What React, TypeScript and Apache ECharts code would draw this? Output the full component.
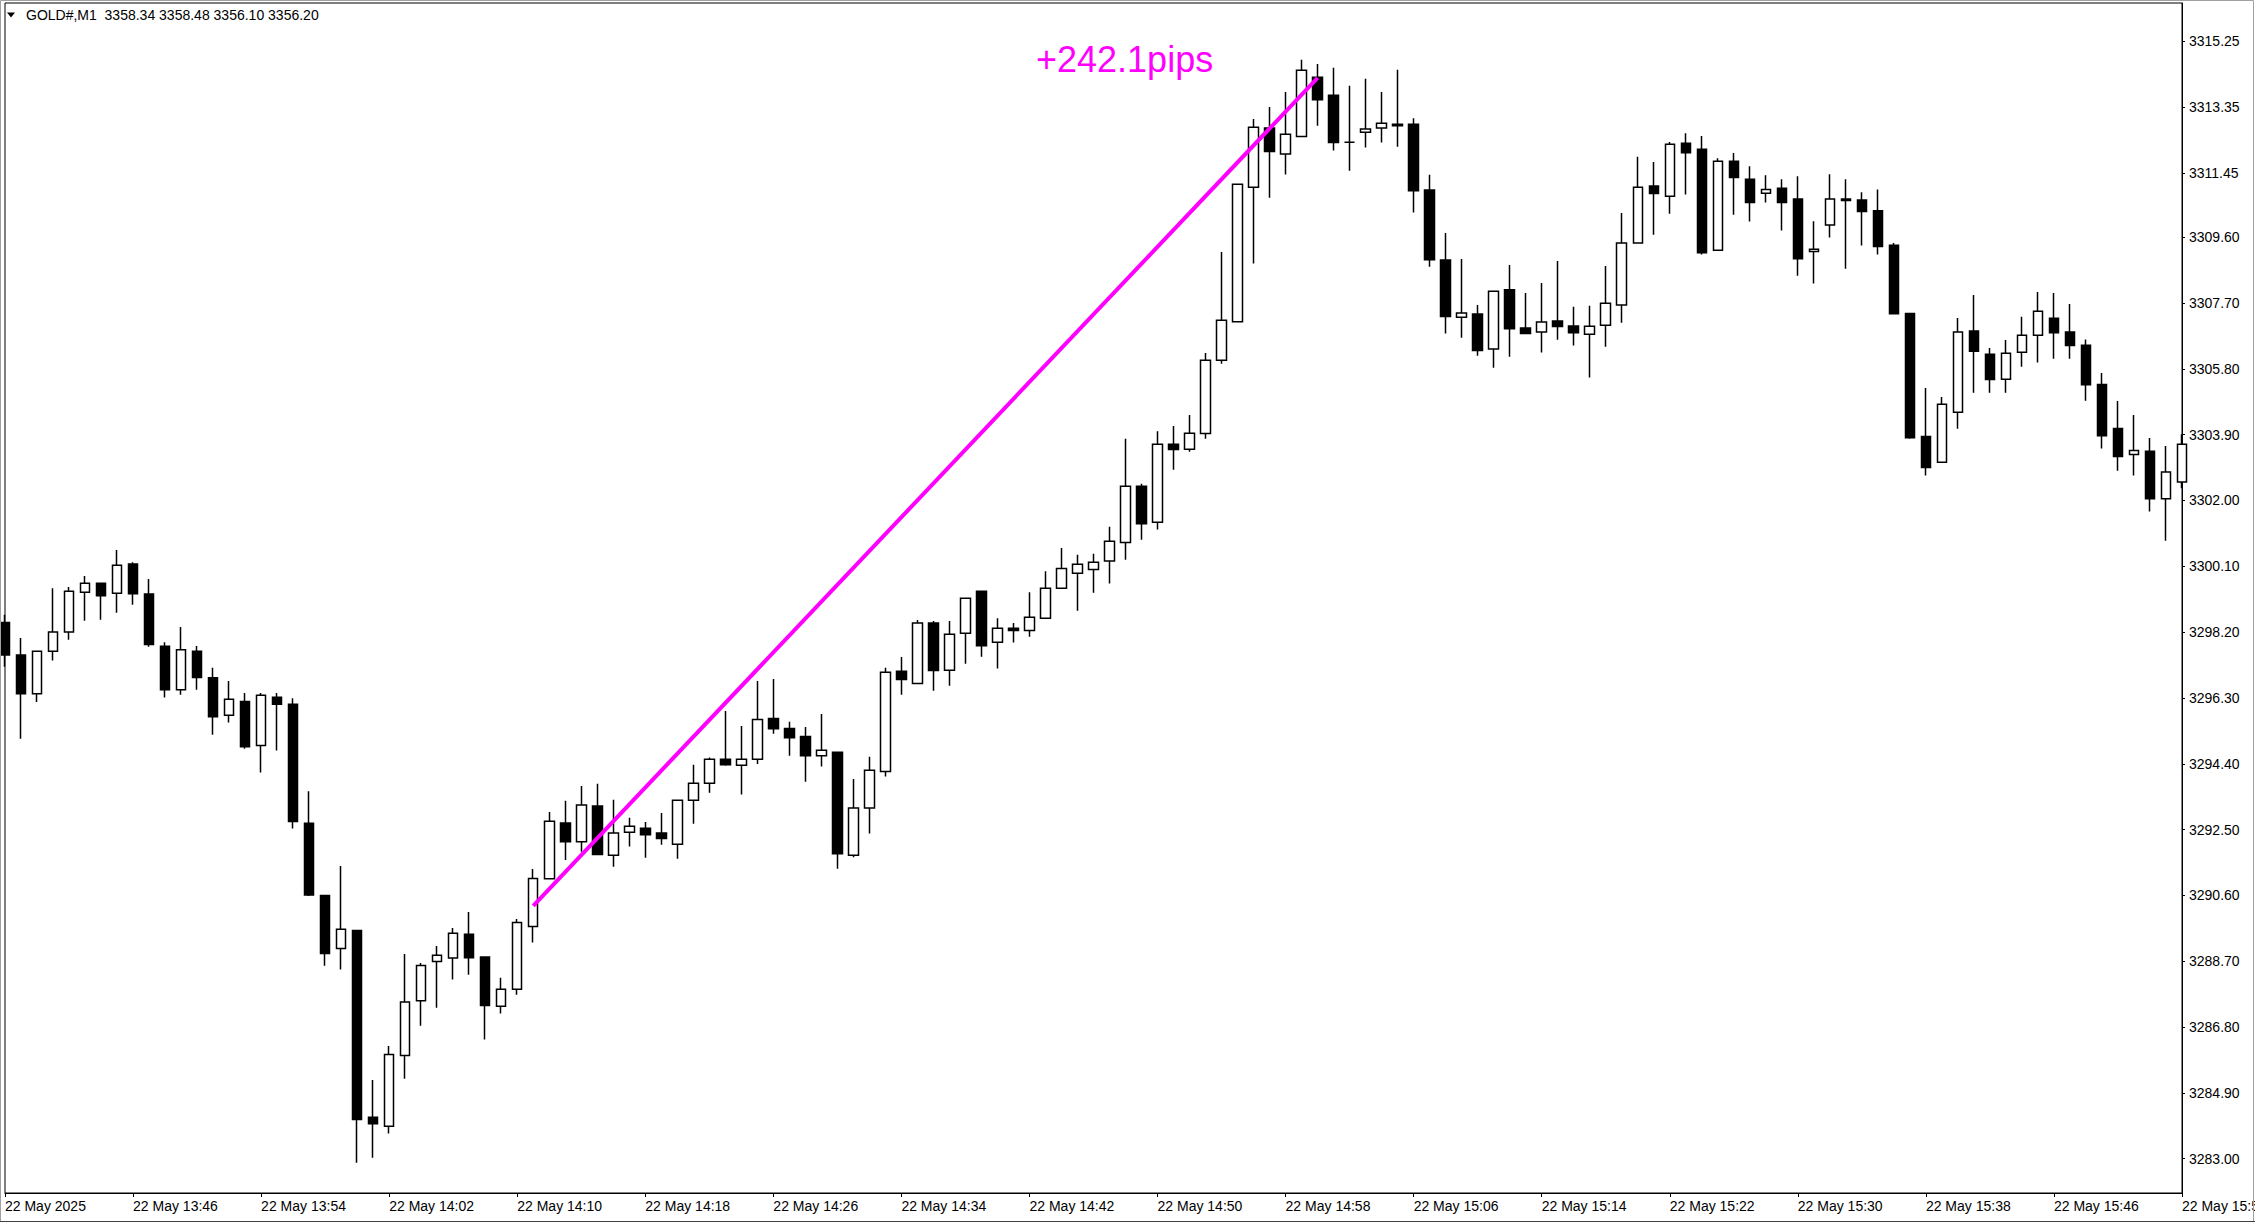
import React, { useEffect, useRef } from "react";
import * as echarts from "echarts";

// ---- data ----
const START_MINUTE = 13 * 60 + 38; // 22 May 2025 13:38, one candle per minute (M1)
const CANDLE_COUNT = 137;
const DATE_PREFIX = "22 May ";
const FIRST_LABEL = "22 May 2025";

const times: string[] = [];
for (let i = 0; i < CANDLE_COUNT; i++) {
  const m = START_MINUTE + i;
  const hh = String(Math.floor(m / 60)).padStart(2, "0");
  const mm = String(m % 60).padStart(2, "0");
  times.push(hh + ":" + mm);
}

const opens = [
  3298.48, 3297.54, 3296.42, 3297.65, 3298.20, 3299.35, 3299.61, 3299.32, 3300.17, 3299.30,
  3297.79, 3296.54, 3297.65, 3296.88, 3295.80, 3296.20, 3294.93, 3296.32, 3296.12, 3292.68,
  3290.60, 3289.07, 3289.59, 3284.20, 3283.94, 3285.98, 3287.56, 3288.69, 3288.79, 3289.48,
  3288.82, 3287.40, 3287.89, 3289.70, 3291.08, 3292.69, 3292.15, 3293.18, 3291.76, 3292.42,
  3292.54, 3292.40, 3292.08, 3293.35, 3293.84, 3294.53, 3294.36, 3294.53, 3295.71, 3295.42,
  3295.19, 3294.63, 3294.73, 3291.76, 3293.12, 3294.18, 3297.07, 3296.72, 3298.46, 3297.10,
  3298.17, 3299.38, 3297.91, 3298.31, 3298.25, 3298.60, 3299.47, 3299.90, 3300.01, 3300.25,
  3300.79, 3302.41, 3301.37, 3303.62, 3303.48, 3303.93, 3306.05, 3307.16, 3311.04, 3312.75,
  3312.00, 3312.51, 3314.22, 3313.70, 3312.34, 3312.63, 3312.75, 3312.86, 3312.86, 3310.96,
  3308.94, 3307.29, 3307.38, 3306.37, 3308.08, 3306.98, 3306.86, 3307.18, 3307.04, 3306.80,
  3307.06, 3307.64, 3309.43, 3311.08, 3310.78, 3312.31, 3312.14, 3309.22, 3311.79, 3311.27,
  3310.87, 3311.01, 3310.70, 3309.19, 3309.95, 3310.70, 3310.67, 3310.36, 3309.37, 3307.40,
  3303.85, 3303.10, 3304.55, 3306.89, 3306.22, 3305.50, 3306.28, 3306.77, 3307.26, 3306.86,
  3306.48, 3305.35, 3304.08, 3303.33, 3303.42, 3302.05, 3302.53,
];
const highs = [
  3298.70, 3298.03, 3297.65, 3299.47, 3299.50, 3299.82, 3299.61, 3300.57, 3300.22, 3299.73,
  3297.91, 3298.35, 3297.80, 3297.17, 3296.79, 3296.44, 3296.44, 3296.44, 3296.29, 3293.61,
  3290.60, 3291.45, 3289.59, 3285.27, 3286.25, 3288.91, 3288.65, 3289.14, 3289.66, 3290.12,
  3288.82, 3288.22, 3289.92, 3291.36, 3293.01, 3293.33, 3293.76, 3293.82, 3293.36, 3292.84,
  3292.72, 3292.98, 3293.35, 3294.37, 3294.58, 3295.92, 3295.49, 3296.79, 3296.85, 3295.61,
  3295.46, 3295.84, 3294.73, 3293.96, 3294.60, 3297.17, 3297.48, 3298.55, 3298.52, 3298.52,
  3299.18, 3299.38, 3298.60, 3298.46, 3299.35, 3299.96, 3300.63, 3300.43, 3300.46, 3301.24,
  3303.78, 3302.48, 3304.00, 3304.15, 3304.47, 3306.26, 3309.17, 3311.13, 3313.01, 3313.36,
  3313.79, 3314.72, 3314.60, 3314.49, 3313.97, 3314.17, 3313.79, 3314.43, 3313.03, 3311.40,
  3309.72, 3308.97, 3307.64, 3308.04, 3308.80, 3307.99, 3308.28, 3308.91, 3307.59, 3307.62,
  3308.77, 3310.30, 3311.92, 3311.77, 3312.35, 3312.60, 3312.52, 3311.88, 3312.03, 3311.65,
  3311.39, 3311.27, 3311.36, 3310.06, 3311.42, 3311.27, 3310.90, 3310.98, 3309.43, 3307.40,
  3305.25, 3304.99, 3307.27, 3307.93, 3306.40, 3306.63, 3307.30, 3308.02, 3307.99, 3307.67,
  3306.65, 3305.68, 3304.87, 3304.47, 3303.80, 3303.57, 3303.91,
];
const lows = [
  3297.20, 3295.12, 3296.18, 3297.38, 3297.98, 3298.53, 3298.56, 3298.76, 3298.99, 3297.78,
  3296.31, 3296.39, 3296.54, 3295.24, 3295.59, 3294.83, 3294.15, 3294.78, 3292.53, 3290.58,
  3288.57, 3288.46, 3282.88, 3283.03, 3283.73, 3285.31, 3286.84, 3287.36, 3288.17, 3288.31,
  3286.44, 3287.19, 3287.73, 3289.24, 3291.06, 3291.62, 3291.86, 3291.78, 3291.43, 3292.01,
  3291.69, 3292.06, 3291.66, 3292.67, 3293.56, 3294.34, 3293.51, 3294.39, 3295.27, 3294.63,
  3293.88, 3294.32, 3291.37, 3291.70, 3292.39, 3294.03, 3296.39, 3296.72, 3296.51, 3296.65,
  3297.29, 3297.49, 3297.15, 3297.90, 3298.07, 3298.60, 3299.47, 3298.82, 3299.34, 3299.60,
  3300.29, 3300.87, 3301.16, 3302.89, 3303.41, 3303.78, 3305.95, 3307.16, 3308.84, 3310.74,
  3311.41, 3312.51, 3312.82, 3312.10, 3311.52, 3312.19, 3312.33, 3312.21, 3310.31, 3308.75,
  3306.82, 3306.70, 3306.18, 3305.83, 3306.15, 3306.82, 3306.27, 3306.64, 3306.47, 3305.55,
  3306.44, 3307.13, 3309.43, 3309.67, 3310.28, 3310.83, 3309.10, 3309.22, 3310.25, 3310.05,
  3310.60, 3309.79, 3308.49, 3308.26, 3309.59, 3308.69, 3309.36, 3309.10, 3307.39, 3303.78,
  3302.72, 3303.10, 3304.07, 3305.11, 3305.11, 3305.11, 3305.86, 3305.98, 3306.09, 3306.09,
  3304.88, 3303.50, 3302.86, 3302.72, 3301.68, 3300.84, 3302.35,
];
const closes = [
  3297.54, 3296.42, 3297.65, 3298.20, 3299.38, 3299.61, 3299.25, 3300.13, 3299.31, 3297.84,
  3296.54, 3297.69, 3296.89, 3295.76, 3296.26, 3294.89, 3296.38, 3296.12, 3292.73, 3290.61,
  3288.92, 3289.62, 3284.13, 3284.01, 3286.01, 3287.52, 3288.58, 3288.87, 3289.51, 3288.80,
  3287.42, 3287.89, 3289.82, 3291.09, 3292.74, 3292.15, 3293.21, 3291.78, 3292.40, 3292.60,
  3292.35, 3292.24, 3293.35, 3293.84, 3294.53, 3294.37, 3294.53, 3295.68, 3295.41, 3295.15,
  3294.63, 3294.79, 3291.80, 3293.12, 3294.21, 3297.04, 3296.83, 3298.46, 3297.09, 3298.14,
  3299.18, 3297.81, 3298.31, 3298.25, 3298.63, 3299.47, 3300.04, 3300.16, 3300.22, 3300.82,
  3302.41, 3301.33, 3303.62, 3303.47, 3303.94, 3306.05, 3307.20, 3311.13, 3312.77, 3312.07,
  3312.57, 3314.42, 3313.57, 3312.33, 3312.34, 3312.72, 3312.89, 3312.82, 3310.94, 3308.95,
  3307.31, 3307.41, 3306.33, 3308.04, 3306.96, 3306.82, 3307.15, 3307.02, 3306.84, 3307.03,
  3307.69, 3309.43, 3311.04, 3310.86, 3312.28, 3312.04, 3309.15, 3311.79, 3311.32, 3310.60,
  3310.98, 3310.60, 3308.98, 3309.25, 3310.70, 3310.66, 3310.34, 3309.33, 3307.39, 3303.81,
  3302.95, 3304.78, 3306.86, 3306.31, 3305.49, 3306.25, 3306.77, 3307.46, 3306.84, 3306.47,
  3305.34, 3303.87, 3303.27, 3303.44, 3302.05, 3302.82, 3303.62,
];

const priceTicks = [
  3315.25, 3313.35, 3311.45, 3309.6, 3307.7, 3305.8, 3303.9, 3302.0, 3300.1,
  3298.2, 3296.3, 3294.4, 3292.5, 3290.6, 3288.7, 3286.8, 3284.9, 3283.0,
];
const PRICE_MIN = 3282.01;
const PRICE_MAX = 3316.36;
const LABEL_EVERY = 8;

const headerText = "GOLD#,M1  3358.34 3358.48 3356.10 3356.20";
const pipsLabel = "+242.1pips";
const trendStartIndex = 33;
const trendStartPrice = 3290.3;
const trendEndIndex = 82;
const trendEndPrice = 3314.2;

const FONT = "'Liberation Sans', Arial, sans-serif";

export default function App() {
  const ref = useRef<HTMLDivElement>(null);

  useEffect(() => {
    document.body.style.margin = "0";
    if (!ref.current) return;
    const chart = echarts.init(ref.current, undefined, { renderer: "svg" });

    const candleData = times.map((_, i) => [opens[i], closes[i], lows[i], highs[i]]);

    chart.setOption({
      animation: false,
      backgroundColor: "#ffffff",
      grid: {
        left: 5,
        right: 73,
        top: 3,
        bottom: 30,
        containLabel: false,
        outerBoundsMode: "none",
        show: true,
        borderColor: "#000000",
        borderWidth: 1,
        backgroundColor: "#ffffff",
      },
      xAxis: {
        type: "category",
        data: times,
        boundaryGap: false,
        axisLine: { show: true, lineStyle: { color: "#000000", width: 1 } },
        axisTick: {
          show: true,
          length: 4,
          interval: (index: number) => index % LABEL_EVERY === 0,
          lineStyle: { color: "#000000" },
        },
        axisLabel: {
          interval: (index: number) => index % LABEL_EVERY === 0,
          align: "left",
          margin: 6,
          color: "#000000",
          fontSize: 14,
          fontFamily: FONT,
          hideOverlap: false,
          formatter: (value: string, index: number) =>
            index === 0 ? FIRST_LABEL : DATE_PREFIX + value,
        },
        splitLine: { show: false },
      },
      yAxis: {
        type: "value",
        position: "right",
        scale: true,
        min: PRICE_MIN,
        max: PRICE_MAX,
        axisLine: { show: true, lineStyle: { color: "#000000", width: 1 } },
        axisTick: {
          show: true,
          length: 3,
          customValues: priceTicks,
          lineStyle: { color: "#000000" },
        },
        axisLabel: {
          customValues: priceTicks,
          margin: 7,
          color: "#000000",
          fontSize: 14,
          fontFamily: FONT,
          formatter: (v: number) => v.toFixed(2),
        },
        splitLine: { show: false },
      },
      series: [
        {
          type: "candlestick",
          data: candleData,
          barWidth: 10,
          clip: true,
          itemStyle: {
            color: "#ffffff",
            color0: "#000000",
            borderColor: "#000000",
            borderColor0: "#000000",
            borderColorDoji: "#000000",
            borderWidth: 1.5,
          },
          markLine: {
            silent: true,
            symbol: ["none", "none"],
            label: { show: false },
            lineStyle: { color: "#ff00ff", width: 4, type: "solid" },
            data: [
              [
                { coord: [times[trendStartIndex], trendStartPrice] },
                { coord: [times[trendEndIndex], trendEndPrice] },
              ],
            ],
          },
        },
      ],
      graphic: [
        {
          type: "rect",
          silent: true,
          shape: { x: 0.5, y: 0.5, width: 2253, height: 1221 },
          style: { fill: null, stroke: "#a0a0a0", lineWidth: 1 },
          z: 100,
        },
        {
          type: "line",
          silent: true,
          shape: { x1: 0, y1: 1221.5, x2: 2255, y2: 1221.5 },
          style: { stroke: "#404040", lineWidth: 1 },
          z: 100,
        },
        {
          type: "polygon",
          silent: true,
          shape: { points: [[7, 12.5], [15, 12.5], [11, 17.5]] },
          style: { fill: "#000000" },
          z: 100,
        },
        {
          type: "text",
          silent: true,
          x: 26,
          y: 15,
          style: {
            text: headerText,
            fill: "#000000",
            fontSize: 14,
            fontFamily: FONT,
            verticalAlign: "middle",
            align: "left",
          },
          z: 100,
        },
        {
          type: "text",
          silent: true,
          x: 1036,
          y: 59,
          style: {
            text: pipsLabel,
            fill: "#ff00ff",
            fontSize: 36,
            fontFamily: FONT,
            verticalAlign: "middle",
            align: "left",
          },
          z: 100,
        },
      ],
    });

    return () => {
      chart.dispose();
    };
  }, []);

  return <div ref={ref} style={{ width: 2255, height: 1223 }} />;
}
